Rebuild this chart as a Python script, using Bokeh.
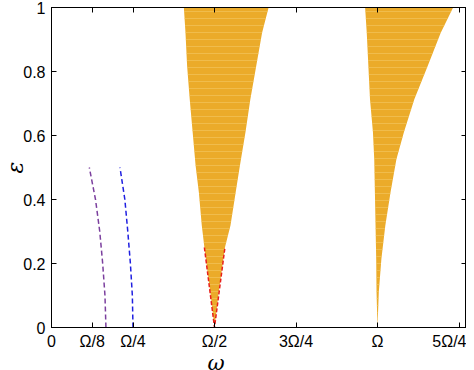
from bokeh.plotting import figure
from bokeh.models import LinearAxis, FixedTicker, Range1d, Title
from bokeh.embed import file_html
from bokeh.resources import INLINE

# ---- data ----
x_ticks = [0, 0.125, 0.25, 0.5, 0.75, 1.0, 1.25]
x_tick_labels = ["0", "Ω/8", "Ω/4", "Ω/2", "3Ω/4", "Ω", "5Ω/4"]
y_ticks = [0, 0.2, 0.4, 0.6, 0.8, 1.0]
y_tick_labels = ["0", "0.2", "0.4", "0.6", "0.8", "1"]

# instability tongue near Ω/2
eps_mid = [0.0, 0.111, 0.25, 0.319, 0.423, 0.506, 0.61, 0.713, 0.817, 0.921, 1.0]
mid_left = [0.5, 0.487, 0.469, 0.461, 0.452, 0.442, 0.433, 0.424, 0.416, 0.411, 0.406]
mid_right = [0.5, 0.513, 0.532, 0.549, 0.565, 0.578, 0.595, 0.61, 0.628, 0.646, 0.666]

# instability tongue near Ω
eps_hi = [0.0, 0.111, 0.215, 0.319, 0.423, 0.526, 0.61, 0.713, 0.817, 0.921, 1.0]
hi_left = [1.0, 0.997, 0.996, 0.994, 0.992, 0.99, 0.986, 0.977, 0.972, 0.967, 0.962]
hi_right = [1.0, 1.004, 1.012, 1.024, 1.04, 1.058, 1.081, 1.113, 1.154, 1.194, 1.232]

# dashed curves
eps_dash = [0.0, 0.1, 0.2, 0.3, 0.4, 0.5]
purple_w = [0.167, 0.164, 0.157, 0.148, 0.135, 0.116]
blue_w = [0.25, 0.248, 0.242, 0.234, 0.225, 0.21]

# red dashed approximation near Ω/2
red_eps = [0.25, 0.0, 0.25]
red_w = [0.469, 0.5, 0.532]

ORANGE = "#EBAB2A"
STRIPE = "#F4C862"

p = figure(width=466, height=370, output_backend="svg", toolbar_location=None,
           x_range=Range1d(0, 1.273), y_range=Range1d(0, 1),
           min_border_left=0, min_border_right=0, min_border_top=7, min_border_bottom=0)

for ys, xl, xr in ((eps_mid, mid_left, mid_right), (eps_hi, hi_left, hi_right)):
    p.harea(y=ys, x1=xl, x2=xr, fill_color=ORANGE,
            hatch_pattern="horizontal_line", hatch_color=STRIPE, hatch_alpha=0.6,
            hatch_scale=7, hatch_weight=1)

p.line(purple_w, eps_dash, line_color="#7B3F9E", line_width=1.5, line_dash="5 3")
p.line(blue_w, eps_dash, line_color="#1F1FE0", line_width=1.5, line_dash="5 3")
p.line(red_w, red_eps, line_color="#E8201A", line_width=1.5, line_dash="4 2")

p.grid.visible = False
p.outline_line_color = "black"
p.outline_line_width = 1
p.background_fill_color = "white"
p.border_fill_color = "white"

FONT = "Liberation Sans"

xa = p.xaxis[0]
xa.ticker = FixedTicker(ticks=x_ticks)
xa.major_label_overrides = {t: l for t, l in zip(x_ticks, x_tick_labels)}
ya = p.yaxis[0]
ya.ticker = FixedTicker(ticks=y_ticks)
ya.major_label_overrides = {t: l for t, l in zip(y_ticks, y_tick_labels)}

for ax in (xa, ya):
    ax.major_tick_in = 5
    ax.major_tick_out = 0
    ax.minor_tick_line_color = None
    ax.axis_line_color = "black"
    ax.major_tick_line_color = "black"
    ax.major_label_text_font = FONT
    ax.major_label_text_font_size = "16px"
    ax.major_label_text_color = "black"
    ax.axis_label_text_font = "DejaVu Serif"
    ax.axis_label_text_font_style = "italic"
    ax.axis_label_text_font_size = "22px"
    ax.axis_label_text_color = "black"
    ax.major_label_standoff = 6
xa.major_label_standoff = 5

ya.axis_label = "ε"
ya.axis_label_standoff = -8

# x-axis title placed under Ω/2 as in the reference
p.add_layout(Title(text="ω", align="left", offset=156, standoff=-8,
                   text_font="DejaVu Serif", text_font_style="italic",
                   text_font_size="21px", text_line_height=0.7,
                   text_color="black"), "below")

top = LinearAxis(ticker=FixedTicker(ticks=x_ticks), major_label_text_color=None,
                 major_label_text_font_size="1px",
                 major_tick_in=5, major_tick_out=0, minor_tick_line_color=None,
                 major_label_standoff=0)
right = LinearAxis(ticker=FixedTicker(ticks=y_ticks), major_label_text_color=None,
                   major_label_text_font_size="1px",
                   major_tick_in=5, major_tick_out=0, minor_tick_line_color=None,
                   major_label_standoff=0)
p.add_layout(top, "above")
p.add_layout(right, "right")

open("out.html", "w").write(file_html(p, INLINE))
